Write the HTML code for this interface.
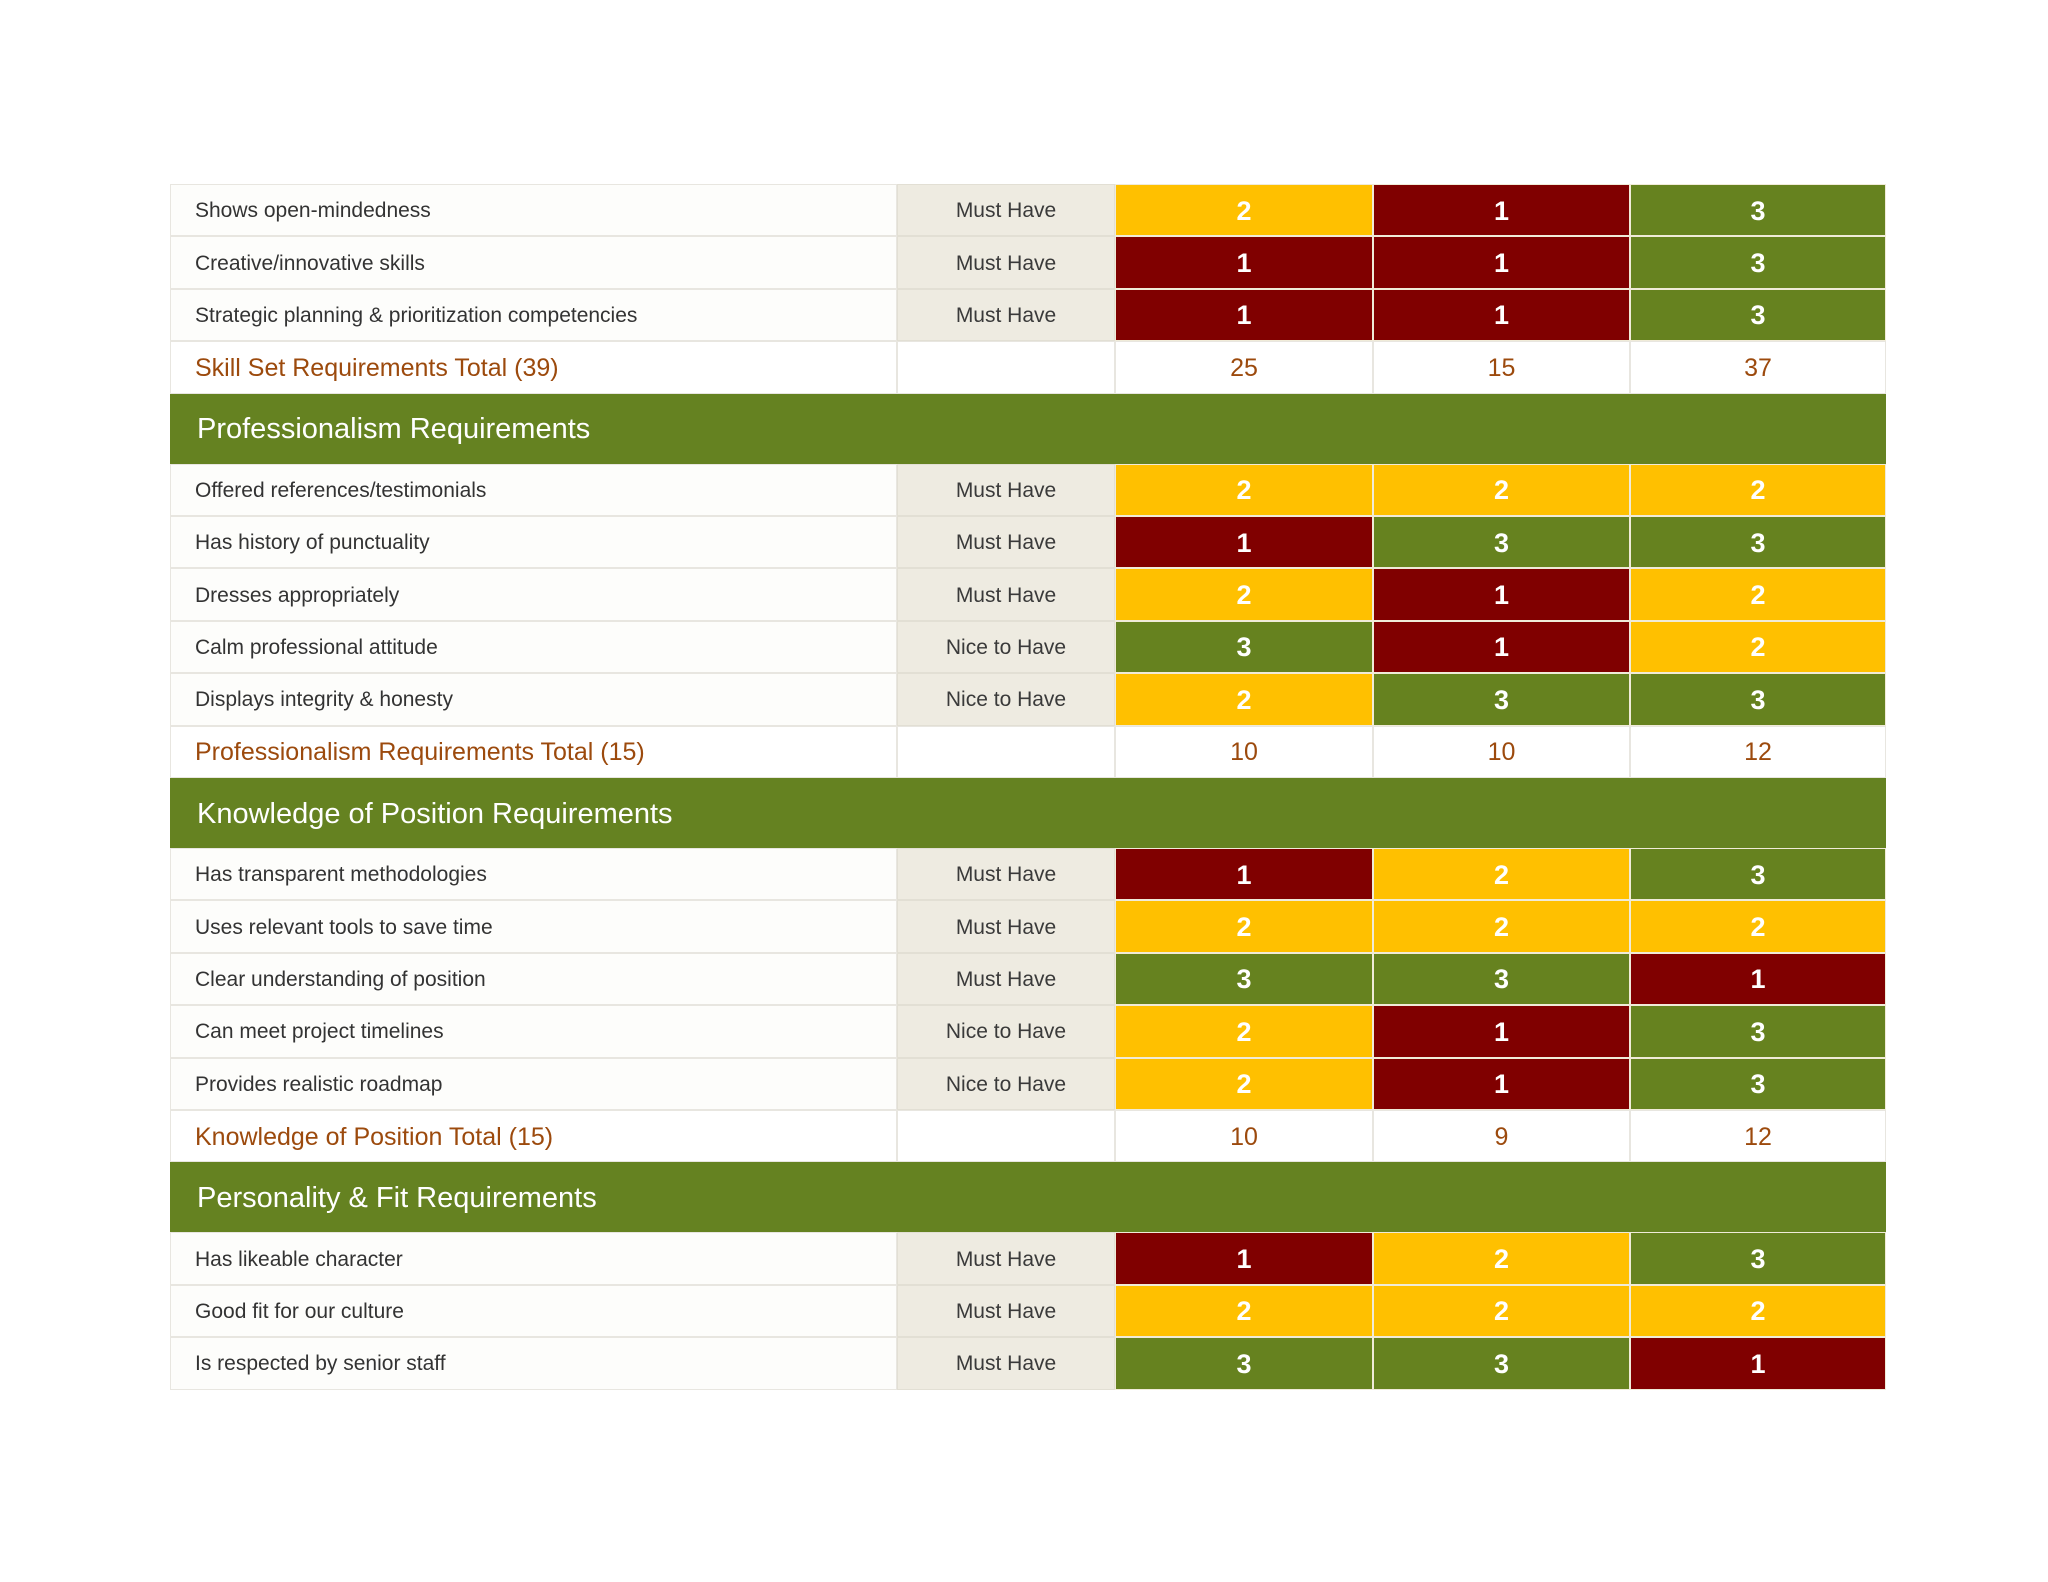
<!DOCTYPE html>
<html><head><meta charset="utf-8">
<style>
html,body{margin:0;padding:0;background:#fff;}
#wrap{position:relative;width:2048px;height:1582px;background:#fff;overflow:hidden;font-family:"Liberation Sans",sans-serif;}
.c{position:absolute;box-sizing:border-box;display:flex;align-items:center;padding-top:2px;}
.lbl{background:#fdfdfb;border:1px solid #e8e6e0;color:#333;font-size:21px;padding-left:24px;}
.pri{background:#eeebe1;border:1px solid #e2dfd4;color:#3a3a3a;font-size:21px;justify-content:center;}
.sc{border:1px solid #f0ebd8;color:#fff;font-weight:bold;font-size:27px;justify-content:center;}
.tl{background:#fff;border:1px solid #e8e6e0;color:#9c4a0d;font-size:25px;padding-left:24px;}
.tv{background:#fff;border:1px solid #e8e6e0;color:#9c4a0d;font-size:25px;justify-content:center;}
.hd{background:#658221;color:#fff;font-family:"Liberation Sans",sans-serif;font-size:29px;padding-left:27px;}
</style></head>
<body>
<div id="wrap"></div>
<script>
const sections = ["", "Professionalism Requirements", "Knowledge of Position Requirements", "Personality & Fit Requirements"];
const criteria = [
 ["Shows open-mindedness","Creative/innovative skills","Strategic planning & prioritization competencies"],
 ["Offered references/testimonials","Has history of punctuality","Dresses appropriately","Calm professional attitude","Displays integrity & honesty"],
 ["Has transparent methodologies","Uses relevant tools to save time","Clear understanding of position","Can meet project timelines","Provides realistic roadmap"],
 ["Has likeable character","Good fit for our culture","Is respected by senior staff"]
];
const priorities = [
 ["Must Have","Must Have","Must Have"],
 ["Must Have","Must Have","Must Have","Nice to Have","Nice to Have"],
 ["Must Have","Must Have","Must Have","Nice to Have","Nice to Have"],
 ["Must Have","Must Have","Must Have"]
];
const scores = [
 [[2,1,3],[1,1,3],[1,1,3]],
 [[2,2,2],[1,3,3],[2,1,2],[3,1,2],[2,3,3]],
 [[1,2,3],[2,2,2],[3,3,1],[2,1,3],[2,1,3]],
 [[1,2,3],[2,2,2],[3,3,1]]
];
const totalLabels = ["Skill Set Requirements Total (39)","Professionalism Requirements Total (15)","Knowledge of Position Total (15)",null];
const totals = [[25,15,37],[10,10,12],[10,9,12],null];

const W = document.getElementById('wrap');
const colX = [170,897,1115,1373,1630,1886];
const ROW = 52.4, HEAD = 70;
const colors = {1:'#800000',2:'#ffc000',3:'#66821f'};
function cell(cls,x,y,w,h,txt){
  const d=document.createElement('div');
  d.className='c '+cls;
  d.style.left=x+'px';d.style.top=y+'px';d.style.width=w+'px';d.style.height=h+'px';
  d.textContent=txt;
  W.appendChild(d);
  return d;
}
let y=184;
for(let s=0;s<sections.length;s++){
  if(sections[s]){
    const h=cell('hd',colX[0],y,colX[5]-colX[0],HEAD,sections[s]);
    
    
    y+=HEAD;
  }
  for(let r=0;r<criteria[s].length;r++){
    const a=cell('lbl',colX[0],y,colX[1]-colX[0],ROW,criteria[s][r]);
    
    
    const p=cell('pri',colX[1],y,colX[2]-colX[1],ROW,priorities[s][r]);
    
    
    for(let k=0;k<3;k++){
      const v=scores[s][r][k];
      const c=cell('sc',colX[2+k],y,colX[3+k]-colX[2+k],ROW,v);
      c.style.background=colors[v];
      
      
    }
    y+=ROW;
  }
  if(totalLabels[s]){
    const t=cell('tl',colX[0],y,colX[1]-colX[0],ROW,totalLabels[s]);
    
    
    const e=cell('tv',colX[1],y,colX[2]-colX[1],ROW,'');
    
    
    for(let k=0;k<3;k++){
      const c=cell('tv',colX[2+k],y,colX[3+k]-colX[2+k],ROW,totals[s][k]);
      
      
    }
    y+=ROW;
  }
}
</script>
</body></html>
